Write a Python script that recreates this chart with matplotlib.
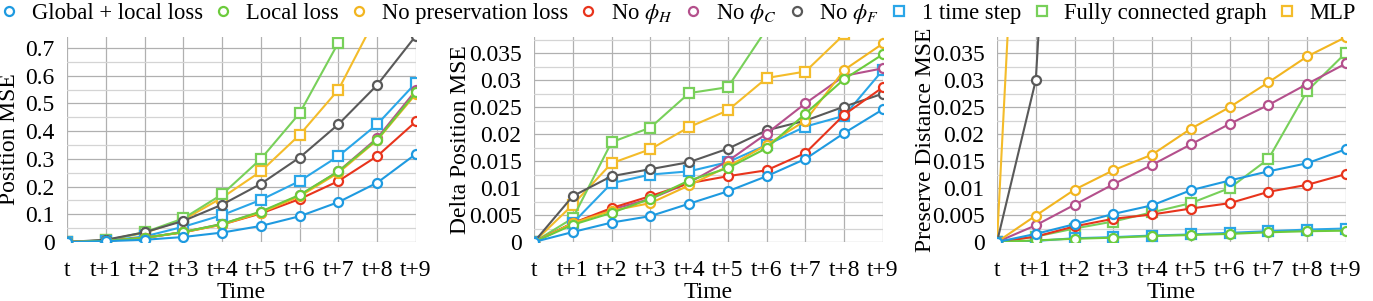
import numpy as np
import matplotlib
matplotlib.use("Agg")
import matplotlib.pyplot as plt
from matplotlib.ticker import MultipleLocator, FormatStrFormatter

plt.rcParams["font.family"] = ["Liberation Serif", "DejaVu Serif"]
plt.rcParams["mathtext.fontset"] = "stix"

TIME = ["t", "t+1", "t+2", "t+3", "t+4", "t+5", "t+6", "t+7", "t+8", "t+9"]
NAMES = ["Global + local loss", "Local loss", "No preservation loss", r"No $\phi_H$",
         r"No $\phi_C$", r"No $\phi_F$", "1 time step", "Fully connected graph", "MLP"]
COLORS = ["#1E9AE0", "#6CCB3C", "#F2B520", "#E8341C", "#B4508C", "#595959",
          "#2AA6E8", "#78D05A", "#F4BC2A"]
MARKERS = ["o", "o", "o", "o", "o", "o", "s", "s", "s"]

# position MSE
pos_global = [0, 0.003, 0.008, 0.018, 0.034, 0.058, 0.093, 0.144, 0.214, 0.318]
pos_local = [0, 0.004, 0.015, 0.036, 0.065, 0.11, 0.17, 0.255, 0.37, 0.54]
pos_nopres = [0, 0.004, 0.015, 0.035, 0.063, 0.106, 0.165, 0.25, 0.368, 0.535]
pos_noH = [0, 0.004, 0.015, 0.035, 0.063, 0.103, 0.155, 0.22, 0.31, 0.435]
pos_noC = [0, 0.004, 0.015, 0.036, 0.065, 0.108, 0.168, 0.255, 0.375, 0.548]
pos_noF = [0, 0.008, 0.035, 0.076, 0.135, 0.21, 0.305, 0.425, 0.567, 0.745]
pos_1step = [0, 0.004, 0.02, 0.055, 0.097, 0.152, 0.22, 0.31, 0.425, 0.575]
pos_full = [0, 0.006, 0.035, 0.085, 0.172, 0.3, 0.465, 0.72, 1.5, 2.2]
pos_mlp = [0, 0.006, 0.033, 0.08, 0.16, 0.255, 0.387, 0.55, 0.82, 1.1]

# delta position MSE
dp_global = [0, 0.00185, 0.0036, 0.0048, 0.0071, 0.0094, 0.0122, 0.0154, 0.0202, 0.0246]
dp_local = [0, 0.0032, 0.0054, 0.008, 0.0114, 0.0137, 0.0174, 0.0238, 0.0302, 0.0348]
dp_nopres = [0, 0.0035, 0.0058, 0.0072, 0.0105, 0.014, 0.018, 0.0225, 0.0319, 0.0368]
dp_noH = [0, 0.0035, 0.0063, 0.0085, 0.0109, 0.0122, 0.0133, 0.0165, 0.0236, 0.0287]
dp_noC = [0, 0.0035, 0.006, 0.008, 0.011, 0.015, 0.0201, 0.0257, 0.0308, 0.0322]
dp_noF = [0, 0.0085, 0.0122, 0.0135, 0.0148, 0.0173, 0.0207, 0.0225, 0.0251, 0.0275]
dp_1step = [0, 0.0035, 0.0109, 0.0125, 0.0131, 0.0148, 0.018, 0.0214, 0.0234, 0.0319]
dp_full = [0, 0.0044, 0.0185, 0.0212, 0.0276, 0.0287, 0.0395, 0.045, 0.05, 0.055]
dp_mlp = [0, 0.0069, 0.0146, 0.0172, 0.0213, 0.0244, 0.0304, 0.0316, 0.0385, 0.045]

# preserve distance MSE
pd_global = [0, 0.0015, 0.0033, 0.0052, 0.0068, 0.0096, 0.0114, 0.0131, 0.0146, 0.0172]
pd_local = [0, 0.0003, 0.0006, 0.0008, 0.0011, 0.0013, 0.0015, 0.0018, 0.002, 0.0021]
pd_nopres = [0, 0.0049, 0.0097, 0.0133, 0.0162, 0.021, 0.025, 0.0296, 0.0344, 0.038]
pd_noH = [0, 0.001, 0.0029, 0.0043, 0.0051, 0.0062, 0.0072, 0.0093, 0.0106, 0.0126]
pd_noC = [0, 0.0031, 0.0069, 0.0107, 0.0143, 0.0181, 0.0219, 0.0254, 0.0293, 0.0331]
pd_noF = [0, 0.030, 0.15, 0.25, 0.35, 0.45, 0.55, 0.65, 0.75, 0.85]
pd_1step = [0, 0.0002, 0.0007, 0.0009, 0.0012, 0.0014, 0.0017, 0.002, 0.0023, 0.0025]
pd_full = [0, 0.001, 0.0025, 0.0038, 0.0055, 0.0072, 0.01, 0.0154, 0.028, 0.0351]
pd_mlp = [0, 0.14, 0.28, 0.42, 0.56, 0.7, 0.84, 0.98, 1.12, 1.26]

PANELS = [
    ("Position MSE", [pos_global, pos_local, pos_nopres, pos_noH, pos_noC, pos_noF,
                      pos_1step, pos_full, pos_mlp], 0.74, 0.1, 0.05),
    ("Delta Position MSE", [dp_global, dp_local, dp_nopres, dp_noH, dp_noC, dp_noF,
                            dp_1step, dp_full, dp_mlp], 0.038, 0.005, 0.0025),
    ("Preserve Distance MSE", [pd_global, pd_local, pd_nopres, pd_noH, pd_noC, pd_noF,
                               pd_1step, pd_full, pd_mlp], 0.038, 0.005, 0.0025),
]
LEFTS = [67, 534, 997]
YLAB_X = [10, 460, 925]      # pixel centre of the y labels
W, H = 1373, 301
AX_W, AX_TOP, AX_BOT = 349, 37, 242
FS = 17
LEG_FS = 16.3

fig = plt.figure(figsize=(W / 100, H / 100), dpi=100)
x = np.arange(len(TIME))
for (ylabel, series, ymax, major, minor), left, ylx in zip(PANELS, LEFTS, YLAB_X):
    ax = fig.add_axes([left / W, 1 - AX_BOT / H, AX_W / W, (AX_BOT - AX_TOP) / H])
    for i in range(8, -1, -1):   # baseline ends on top
        ax.plot(x, series[i], color=COLORS[i], marker=MARKERS[i], ms=6.5, mew=1.6,
                mfc="white", lw=1.5, zorder=3)
    ax.set_xlim(0, 9)
    ax.set_ylim(0, ymax)
    ax.yaxis.set_major_locator(MultipleLocator(major))
    ax.yaxis.set_minor_locator(MultipleLocator(minor))
    ax.yaxis.set_major_formatter(FormatStrFormatter("%g"))
    ax.set_xticks(x)
    ax.set_xticklabels(TIME)
    ax.grid(True, which="major", color="#b0b0b0", lw=0.9)
    ax.grid(True, which="minor", axis="y", color="#d4d4d4", lw=0.9)
    ax.set_axisbelow(True)
    for s in ax.spines.values():
        s.set_visible(False)
    ax.tick_params(which="both", length=0, labelsize=FS)
    ax.tick_params(axis="x", pad=13)
    ax.tick_params(axis="y", pad=9)
    ax.set_xlabel("Time", fontsize=FS)
    ax.xaxis.set_label_coords(0.5, -(293 - AX_BOT) / (AX_BOT - AX_TOP))
    ax.xaxis.label.set_va("center")
    ax.set_ylabel(ylabel, fontsize=FS)
    ax.yaxis.set_label_coords((ylx - left) / AX_W, 0.5)
    ax.yaxis.label.set_va("center")

leg_handles = [plt.Line2D([], [], color=COLORS[i], marker=MARKERS[i], ls="none", ms=6.5,
                          mew=1.6, mfc="white") for i in range(9)]
fig.legend(leg_handles, NAMES, loc="center left", bbox_to_anchor=(-0.0015, 1 - 14 / H), ncol=9,
           frameon=False, fontsize=LEG_FS, handlelength=1.0, handletextpad=0.5,
           columnspacing=0.4, borderaxespad=0, borderpad=0)
fig.savefig("out.png", dpi=100)
